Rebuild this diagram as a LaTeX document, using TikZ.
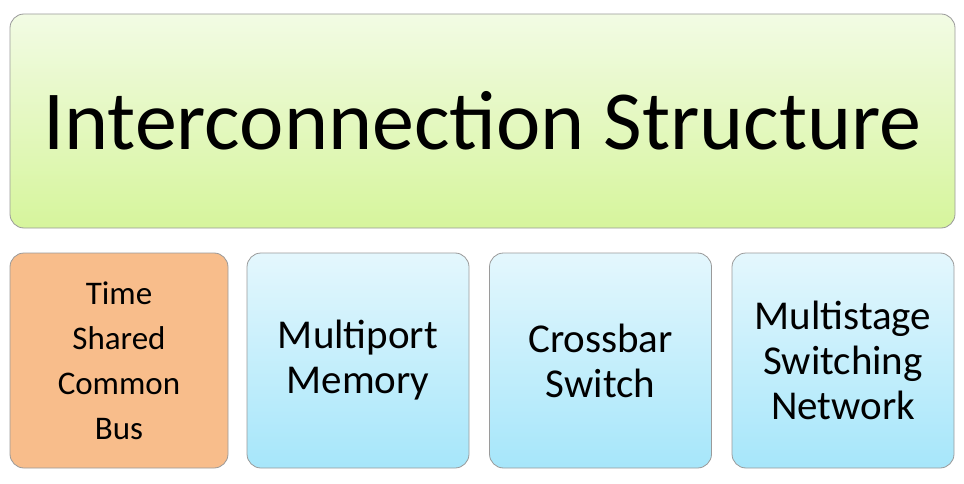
\documentclass[tikz,border=0pt]{standalone}
\usepackage{fontspec}
\setmainfont{Carlito}
\definecolor{gtop}{HTML}{F2FBE4}
\definecolor{gbot}{HTML}{D6F59C}
\definecolor{btop}{HTML}{E4F7FD}
\definecolor{bbot}{HTML}{A6E6FA}
\definecolor{orng}{HTML}{F8BD8B}
\definecolor{edge}{HTML}{9A9A9A}
\tikzset{
 boxbase/.style={draw=edge, line width=0.8pt, rounded corners=14pt, align=center, inner sep=0pt},
 bluebox/.style={boxbase, top color=btop, bottom color=bbot, minimum width=222pt, minimum height=215pt, font=\fontsize{41}{45}\selectfont},
 orangebox/.style={boxbase, fill=orng, minimum width=218pt, minimum height=215pt, font=\fontsize{33}{45}\selectfont},
 titlebox/.style={boxbase, top color=gtop, bottom color=gbot, minimum width=945pt, minimum height=214pt, font=\fontsize{84}{100}\selectfont}
}
\begin{document}
\begin{tikzpicture}[x=1pt,y=-1pt]
\useasboundingbox (0,0) rectangle (964,484);
\node[titlebox] (title) at (482.5,121) {Interconnection Structure};
\node[orangebox] (b1) at (119,360.5) {Time\\Shared\\Common\\Bus};
\node[bluebox] (b2) at (358,360.5) {Multiport\\Memory};
\node[bluebox] (b3) at (600.5,360.5) {Crossbar\\Switch};
\node[bluebox] (b4) at (843,360.5) {Multistage\\Switching\\Network};
\end{tikzpicture}
\end{document}
